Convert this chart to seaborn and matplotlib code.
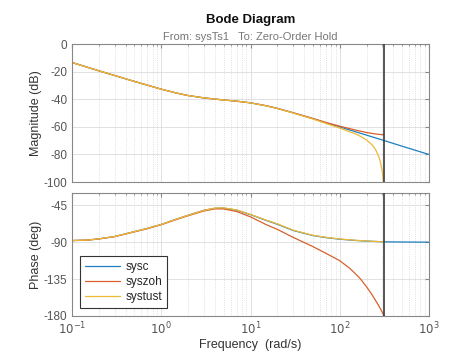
import numpy as np
import pandas as pd
import matplotlib
matplotlib.use("Agg")
import matplotlib.pyplot as plt
import seaborn as sns

# Nyquist frequency of the sampled systems (rad/s)
nyquist = 314.16

# magnitude, continuous system (sysc)
w_mag_c = [0.1, 0.15, 0.2, 0.3, 0.5, 0.7, 1, 1.5, 2, 3, 4, 5, 7, 10, 15, 20,
           30, 50, 70, 100, 150, 200, 314.16, 500, 700, 1000]
mag_c = [-13.4, -16.9, -19.4, -22.8, -27.1, -29.8, -32.7, -35.6, -37.3, -39.0,
         -39.9, -40.5, -41.4, -42.6, -44.7, -46.6, -49.8, -54.0, -57.0, -60.0,
         -63.5, -66.0, -69.9, -74.0, -76.9, -80.0]

# magnitude, zoh
w_mag_zoh = [0.1, 0.15, 0.2, 0.3, 0.5, 0.7, 1, 1.5, 2, 3, 4, 5, 7, 10, 15, 20,
             30, 50, 70, 100, 130, 150, 200, 250, 314.16]
mag_zoh = [-13.4, -16.9, -19.4, -22.8, -27.1, -29.8, -32.7, -35.6, -37.3, -39.0,
           -39.9, -40.5, -41.4, -42.6, -44.7, -46.6, -49.8, -53.9, -56.8, -59.5,
           -61.3, -62.3, -64.1, -65.1, -65.8]

# magnitude, tustin
w_mag_tus = [0.1, 0.15, 0.2, 0.3, 0.5, 0.7, 1, 1.5, 2, 3, 4, 5, 7, 10, 15, 20,
             30, 50, 70, 100, 130, 150, 170, 200, 230, 250, 270, 280, 290, 300,
             305, 310, 314.16]
mag_tus = [-13.4, -16.9, -19.4, -22.8, -27.1, -29.8, -32.7, -35.6, -37.3, -39.0,
           -39.9, -40.5, -41.4, -42.6, -44.8, -46.7, -50.0, -54.3, -57.5, -60.9,
           -63.6, -65.0, -66.8, -69.5, -73.0, -76.0, -80.5, -83.5, -87.5, -92.5,
           -96.5, -103.0, -140.0]

# phase
w_ph_c = [0.1, 0.15, 0.2, 0.3, 0.5, 0.7, 1, 1.5, 2, 3, 4, 5, 7, 10, 15, 20,
          30, 50, 70, 100, 150, 200, 314.16, 500, 1000]
ph_c = [-87.9, -87.3, -85.8, -83.0, -77.0, -73.0, -68.2, -61.5, -57.0, -51.0,
        -48.5, -48.3, -50.8, -56.3, -63.4, -68.0, -75.6, -81.8, -84.3, -86.3,
        -87.8, -88.6, -89.5, -89.7, -89.9]

w_ph_zoh = [0.1, 0.15, 0.2, 0.3, 0.5, 0.7, 1, 1.5, 2, 3, 4, 5, 7, 10, 15, 20,
            30, 50, 70, 100, 130, 150, 170, 200, 230, 250, 270, 290, 314.16]
ph_zoh = [-88.0, -87.4, -86.0, -83.2, -77.3, -73.4, -68.6, -62.0, -57.6, -51.8,
          -49.2, -49.3, -52.5, -59.0, -68.5, -74.3, -84.0, -95.3, -103.5, -112.5,
          -122.0, -128.5, -134.5, -144.5, -154.0, -160.5, -166.5, -172.5, -180.0]

w_ph_tus = [0.1, 0.15, 0.2, 0.3, 0.5, 0.7, 1, 1.5, 2, 3, 4, 5, 7, 10, 15, 20,
            30, 50, 70, 100, 150, 200, 314.16]
ph_tus = [-87.9, -87.3, -85.8, -83.0, -77.0, -73.0, -68.2, -61.5, -57.0, -51.0,
          -48.2, -48.0, -50.5, -56.0, -63.0, -67.5, -75.2, -81.5, -84.0, -86.0,
          -87.6, -88.5, -89.6]

names = ["sysc", "syszoh", "systust"]
colors = ["#1f7fc0", "#d9602e", "#efb934"]

sns.set_style("white")
plt.rcParams["font.family"] = ["Liberation Sans", "DejaVu Sans"]
plt.rcParams["axes.unicode_minus"] = False

fig = plt.figure(figsize=(4.74, 3.55), dpi=100)
ax1 = fig.add_axes([0.152, 0.487, 0.753, 0.389])
ax2 = fig.add_axes([0.152, 0.110, 0.753, 0.346])

mags = [(w_mag_c, mag_c), (w_mag_zoh, mag_zoh), (w_mag_tus, mag_tus)]
phs = [(w_ph_c, ph_c), (w_ph_zoh, ph_zoh), (w_ph_tus, ph_tus)]

for (w, m), (wp, p), name, col in zip(mags, phs, names, colors):
    sns.lineplot(x=w, y=m, ax=ax1, color=col, lw=0.9, sort=False)
    sns.lineplot(x=wp, y=p, ax=ax2, color=col, lw=0.9, sort=False, label=name)

tick_col = "#555555"
for ax in (ax1, ax2):
    ax.set_xscale("log")
    ax.set_xlim(0.1, 1000)
    ax.axvline(nyquist, color="#3a3a3a", lw=1.2, zorder=5)
    ax.grid(True, which="major", color="#dcdcdc", lw=0.6, ls="-")
    ax.grid(True, which="minor", axis="x", color="#d6d6d6", lw=0.6, ls=":")
    ax.set_axisbelow(True)
    ax.tick_params(which="both", direction="in", top=True, right=True,
                   colors="#888888", labelcolor=tick_col, labelsize=8.5)
    ax.tick_params(which="major", length=3)
    ax.tick_params(which="minor", length=1.5)
    for s in ax.spines.values():
        s.set_color("#888888")
        s.set_linewidth(0.8)

ax1.set_ylim(-100, 0)
ax1.set_yticks([0, -20, -40, -60, -80, -100])
ax1.tick_params(labelbottom=False)
ax1.set_ylabel("Magnitude (dB)", fontsize=9, color="#333333", labelpad=1)

ax2.set_ylim(-180, -30)
ax2.set_yticks([-45, -90, -135, -180])
ax2.set_xticks([0.1, 1, 10, 100, 1000])
ax2.set_xticklabels(["$10^{-1}$", "$10^{0}$", "$10^{1}$", "$10^{2}$", "$10^{3}$"])
ax2.set_ylabel("Phase (deg)", fontsize=9, color="#333333", labelpad=1)
ax2.set_xlabel("Frequency  (rad/s)", fontsize=9, color="#333333", labelpad=1)

leg = ax2.legend(loc="lower left", fontsize=8.5, frameon=True, fancybox=False,
                 borderaxespad=0.7, handlelength=3.0, labelspacing=0.25,
                 handletextpad=0.4, borderpad=0.4)
leg.get_frame().set_edgecolor("#333333")
leg.get_frame().set_linewidth(0.8)
leg.get_frame().set_alpha(1.0)

fig.text(0.528, 0.935, "Bode Diagram", ha="center", fontsize=9.5,
         fontweight="bold", color="#111111")
fig.text(0.528, 0.888, "From: sysTs1   To: Zero-Order Hold", ha="center",
         fontsize=8, color="#777777")

fig.savefig("out.png", dpi=100)
